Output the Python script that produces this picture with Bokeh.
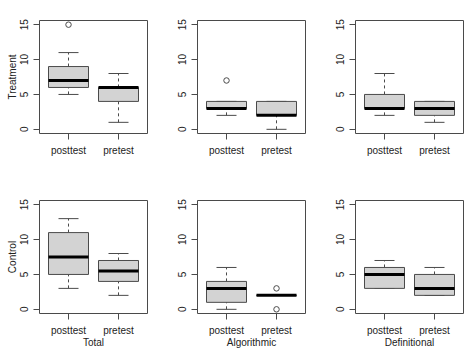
from bokeh.plotting import figure
from bokeh.models import Range1d, FixedTicker, ColumnDataSource
from bokeh.layouts import gridplot
from bokeh.embed import file_html
from bokeh.resources import INLINE

# categories and labels
groups = ["posttest", "pretest"]
row_labels = ["Treatment", "Control"]
col_labels = ["Total", "Algorithmic", "Definitional"]
y_ticks = [0, 5, 10, 15]

# five-number summaries per panel: [posttest, pretest]
# (lower whisker, q1, median, q3, upper whisker)
treatment_total_lo = [5, 1]
treatment_total_q1 = [6, 4]
treatment_total_med = [7, 6]
treatment_total_q3 = [9, 6]
treatment_total_hi = [11, 8]
treatment_total_out = [[15], []]

treatment_alg_lo = [2, 0]
treatment_alg_q1 = [3, 2]
treatment_alg_med = [3, 2]
treatment_alg_q3 = [4, 4]
treatment_alg_hi = [4, 4]
treatment_alg_out = [[7], []]

treatment_def_lo = [2, 1]
treatment_def_q1 = [3, 2]
treatment_def_med = [3, 3]
treatment_def_q3 = [5, 4]
treatment_def_hi = [8, 4]
treatment_def_out = [[], []]

control_total_lo = [3, 2]
control_total_q1 = [5, 4]
control_total_med = [7.5, 5.5]
control_total_q3 = [11, 7]
control_total_hi = [13, 8]
control_total_out = [[], []]

control_alg_lo = [0, 2]
control_alg_q1 = [1, 2]
control_alg_med = [3, 2]
control_alg_q3 = [4, 2]
control_alg_hi = [6, 2]
control_alg_out = [[], [0, 3]]

control_def_lo = [3, 2]
control_def_q1 = [3, 2]
control_def_med = [5, 3]
control_def_q3 = [6, 5]
control_def_hi = [7, 6]
control_def_out = [[], []]

FONT = "Liberation Sans"
LINE = "#4a4a4a"
TEXT = "#222222"
BOXW = 0.8


def make_panel(lo, q1, med, q3, hi, outs, ylabel, xlabel, top_row):
    h = 180 if top_row else 175
    p = figure(width=158, height=h, output_backend="svg", toolbar_location=None,
               title=None,
               x_range=Range1d(0.42, 2.58), y_range=Range1d(-0.6, 15.6),
               min_border_left=39, min_border_right=11, min_border_top=20,
               min_border_bottom=h - 20 - 113)
    p.background_fill_color = "white"
    p.border_fill_color = "white"
    p.outline_line_color = LINE
    p.outline_line_width = 1
    p.xgrid.visible = False
    p.ygrid.visible = False

    xs = [i + 1 for i in range(len(groups))]
    src = ColumnDataSource(dict(
        x=xs, lo=lo, q1=q1, med=med, q3=q3, hi=hi,
        xl=[x - BOXW / 2 for x in xs], xr=[x + BOXW / 2 for x in xs],
        cl=[x - BOXW / 4 for x in xs], cr=[x + BOXW / 4 for x in xs],
    ))
    # whiskers (dashed)
    p.segment(x0="x", x1="x", y0="q3", y1="hi", source=src,
              line_color=LINE, line_width=1, line_dash="3 3")
    p.segment(x0="x", x1="x", y0="lo", y1="q1", source=src,
              line_color=LINE, line_width=1, line_dash="3 3")
    # staples
    p.segment(x0="cl", x1="cr", y0="hi", y1="hi", source=src,
              line_color=LINE, line_width=1)
    p.segment(x0="cl", x1="cr", y0="lo", y1="lo", source=src,
              line_color=LINE, line_width=1)
    # boxes
    p.quad(left="xl", right="xr", bottom="q1", top="q3", source=src,
           fill_color="#d3d3d3", line_color=LINE, line_width=1)
    # medians
    p.segment(x0="xl", x1="xr", y0="med", y1="med", source=src,
              line_color="black", line_width=3)
    # outliers
    ox, oy = [], []
    for i, o in enumerate(outs):
        for v in o:
            ox.append(xs[i])
            oy.append(v)
    if ox:
        p.scatter(x=ox, y=oy, marker="circle", size=5.5, fill_color=None,
                  line_color=LINE, line_width=1)

    for ax in (p.xaxis[0], p.yaxis[0]):
        ax.axis_line_color = None
        ax.major_tick_line_color = LINE
        ax.major_tick_in = 0
        ax.major_tick_out = 6
        ax.minor_tick_line_color = None
        ax.major_label_text_font = FONT
        ax.major_label_text_font_size = "10px"
        ax.major_label_text_color = TEXT
        ax.axis_label_text_font = FONT
        ax.axis_label_text_font_size = "10px"
        ax.axis_label_text_font_style = "normal"
        ax.axis_label_text_color = TEXT
        ax.major_label_standoff = 5
        ax.axis_label_standoff = 0

    p.xaxis.ticker = FixedTicker(ticks=xs)
    p.xaxis.major_label_overrides = {x: g for x, g in zip(xs, groups)}
    p.yaxis.ticker = FixedTicker(ticks=y_ticks)
    p.yaxis.major_label_orientation = "vertical"
    if ylabel:
        p.yaxis.axis_label = ylabel
    if xlabel:
        p.xaxis.axis_label = xlabel
        p.xaxis.axis_label_standoff = -2
    return p


p1 = make_panel(treatment_total_lo, treatment_total_q1, treatment_total_med, treatment_total_q3,
                treatment_total_hi, treatment_total_out, row_labels[0], None, True)
p2 = make_panel(treatment_alg_lo, treatment_alg_q1, treatment_alg_med, treatment_alg_q3,
                treatment_alg_hi, treatment_alg_out, None, None, True)
p3 = make_panel(treatment_def_lo, treatment_def_q1, treatment_def_med, treatment_def_q3,
                treatment_def_hi, treatment_def_out, None, None, True)
p4 = make_panel(control_total_lo, control_total_q1, control_total_med, control_total_q3,
                control_total_hi, control_total_out, row_labels[1], col_labels[0], False)
p5 = make_panel(control_alg_lo, control_alg_q1, control_alg_med, control_alg_q3,
                control_alg_hi, control_alg_out, None, col_labels[1], False)
p6 = make_panel(control_def_lo, control_def_q1, control_def_med, control_def_q3,
                control_def_hi, control_def_out, None, col_labels[2], False)

grid = gridplot([[p1, p2, p3], [p4, p5, p6]], toolbar_location=None)

open("out.html", "w").write(file_html(grid, INLINE))
